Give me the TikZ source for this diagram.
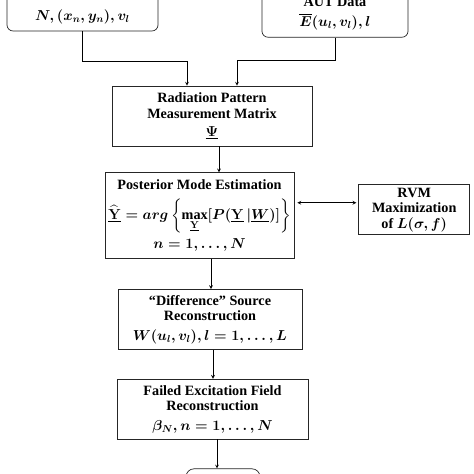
\documentclass[tikz,border=0pt]{standalone}
\usepackage{amsmath,amsfonts}
\usepackage{fontspec}
\setmainfont{Liberation Serif}
\usetikzlibrary{arrows, positioning}

\begin{document}
\begin{tikzpicture}[
            > = stealth, % arrow head style
            x = 1pt, y = -1pt, % picture measured in pixels
            node distance = 26pt, % distance between boxes
            line width = 0.7pt, % line style
            font = \fontsize{14.2}{15.5}\selectfont\bfseries\boldmath
        ]

        \tikzstyle{block}=[
            draw = black!85,
            fill = white,
            align = center,
            inner sep = 3pt
        ]
        \tikzstyle{data}=[block, rounded corners = 6pt, inner ysep = 7pt]

        \clip (0,0) rectangle (474,474);

        \node[data, minimum width = 151pt] (geom) at (82.5,6) {\strut\\[6pt] $N, (x_n, y_n), v_l$};
        \node[data, minimum width = 146pt] (aut) at (335,13.5) {AUT Data\\[5pt] $\overline{E}(u_l, v_l), l$};
        \node[block, minimum width = 200pt, minimum height = 60pt] (rad) at (212,116) {Radiation Pattern\\ Measurement Matrix\\[3pt] $\underline{\mathbf{\Psi}}$};
        \node[block, minimum width = 189pt, minimum height = 86pt] (post) [below = 26pt of rad, xshift = -12.5pt]
            {Posterior Mode Estimation\\[8pt] $\displaystyle \underline{\widehat{\mathbf{Y}}} = arg\left\{\max_{\underline{\mathbf{Y}}}[P(\underline{\mathbf{Y}}\,|\underline{W})]\right\}$\\[5pt] $n = 1, \dots, N$};
        \node[block, minimum width = 111pt, minimum height = 50pt] (rvm) [right = 64pt of post, yshift = 6pt] {RVM\\ Maximization\\ of $L(\sigma, f)$};
        \node[block, minimum width = 184pt, minimum height = 60pt] (diff) [below = 30pt of post, xshift = 10.5pt] {``Difference'' Source\\ Reconstruction\\[4pt] $W(u_l, v_l), l = 1, \dots, L$};
        \node[block, minimum width = 191pt, minimum height = 60pt] (fail) [below = 29pt of diff, xshift = 2.5pt] {Failed Excitation Field\\ Reconstruction\\[4pt] $\beta_N, n = 1, \dots, N$};
        \node[data, rounded corners = 8pt, minimum width = 74pt, minimum height = 30pt] (stop) [below = 29pt of fail, xshift = 10.5pt] {};

        \draw[->] (geom.south) -- ++(0,30) -| ([xshift=-25pt]rad.north);
        \draw[->] (aut.south) -- ++(0,23) -| ([xshift=25pt]rad.north);
        \draw[->] ([xshift=7pt]rad.south) -- ([xshift=7pt]rad.south |- post.north);
        \draw[<->, shorten <= 3pt, shorten >= 2pt] ([yshift=13pt]post.east) -- ([yshift=13pt]post.east -| rvm.west);
        \draw[->] ([xshift=11.5pt]post.south) -- ([xshift=11.5pt]post.south |- diff.north);
        \draw[->] ([xshift=3pt]diff.south) -- ([xshift=3pt]diff.south |- fail.north);
        \draw[->] ([xshift=4.5pt]fail.south) -- ([xshift=4.5pt]fail.south |- stop.north);
    \end{tikzpicture}
\end{document}
